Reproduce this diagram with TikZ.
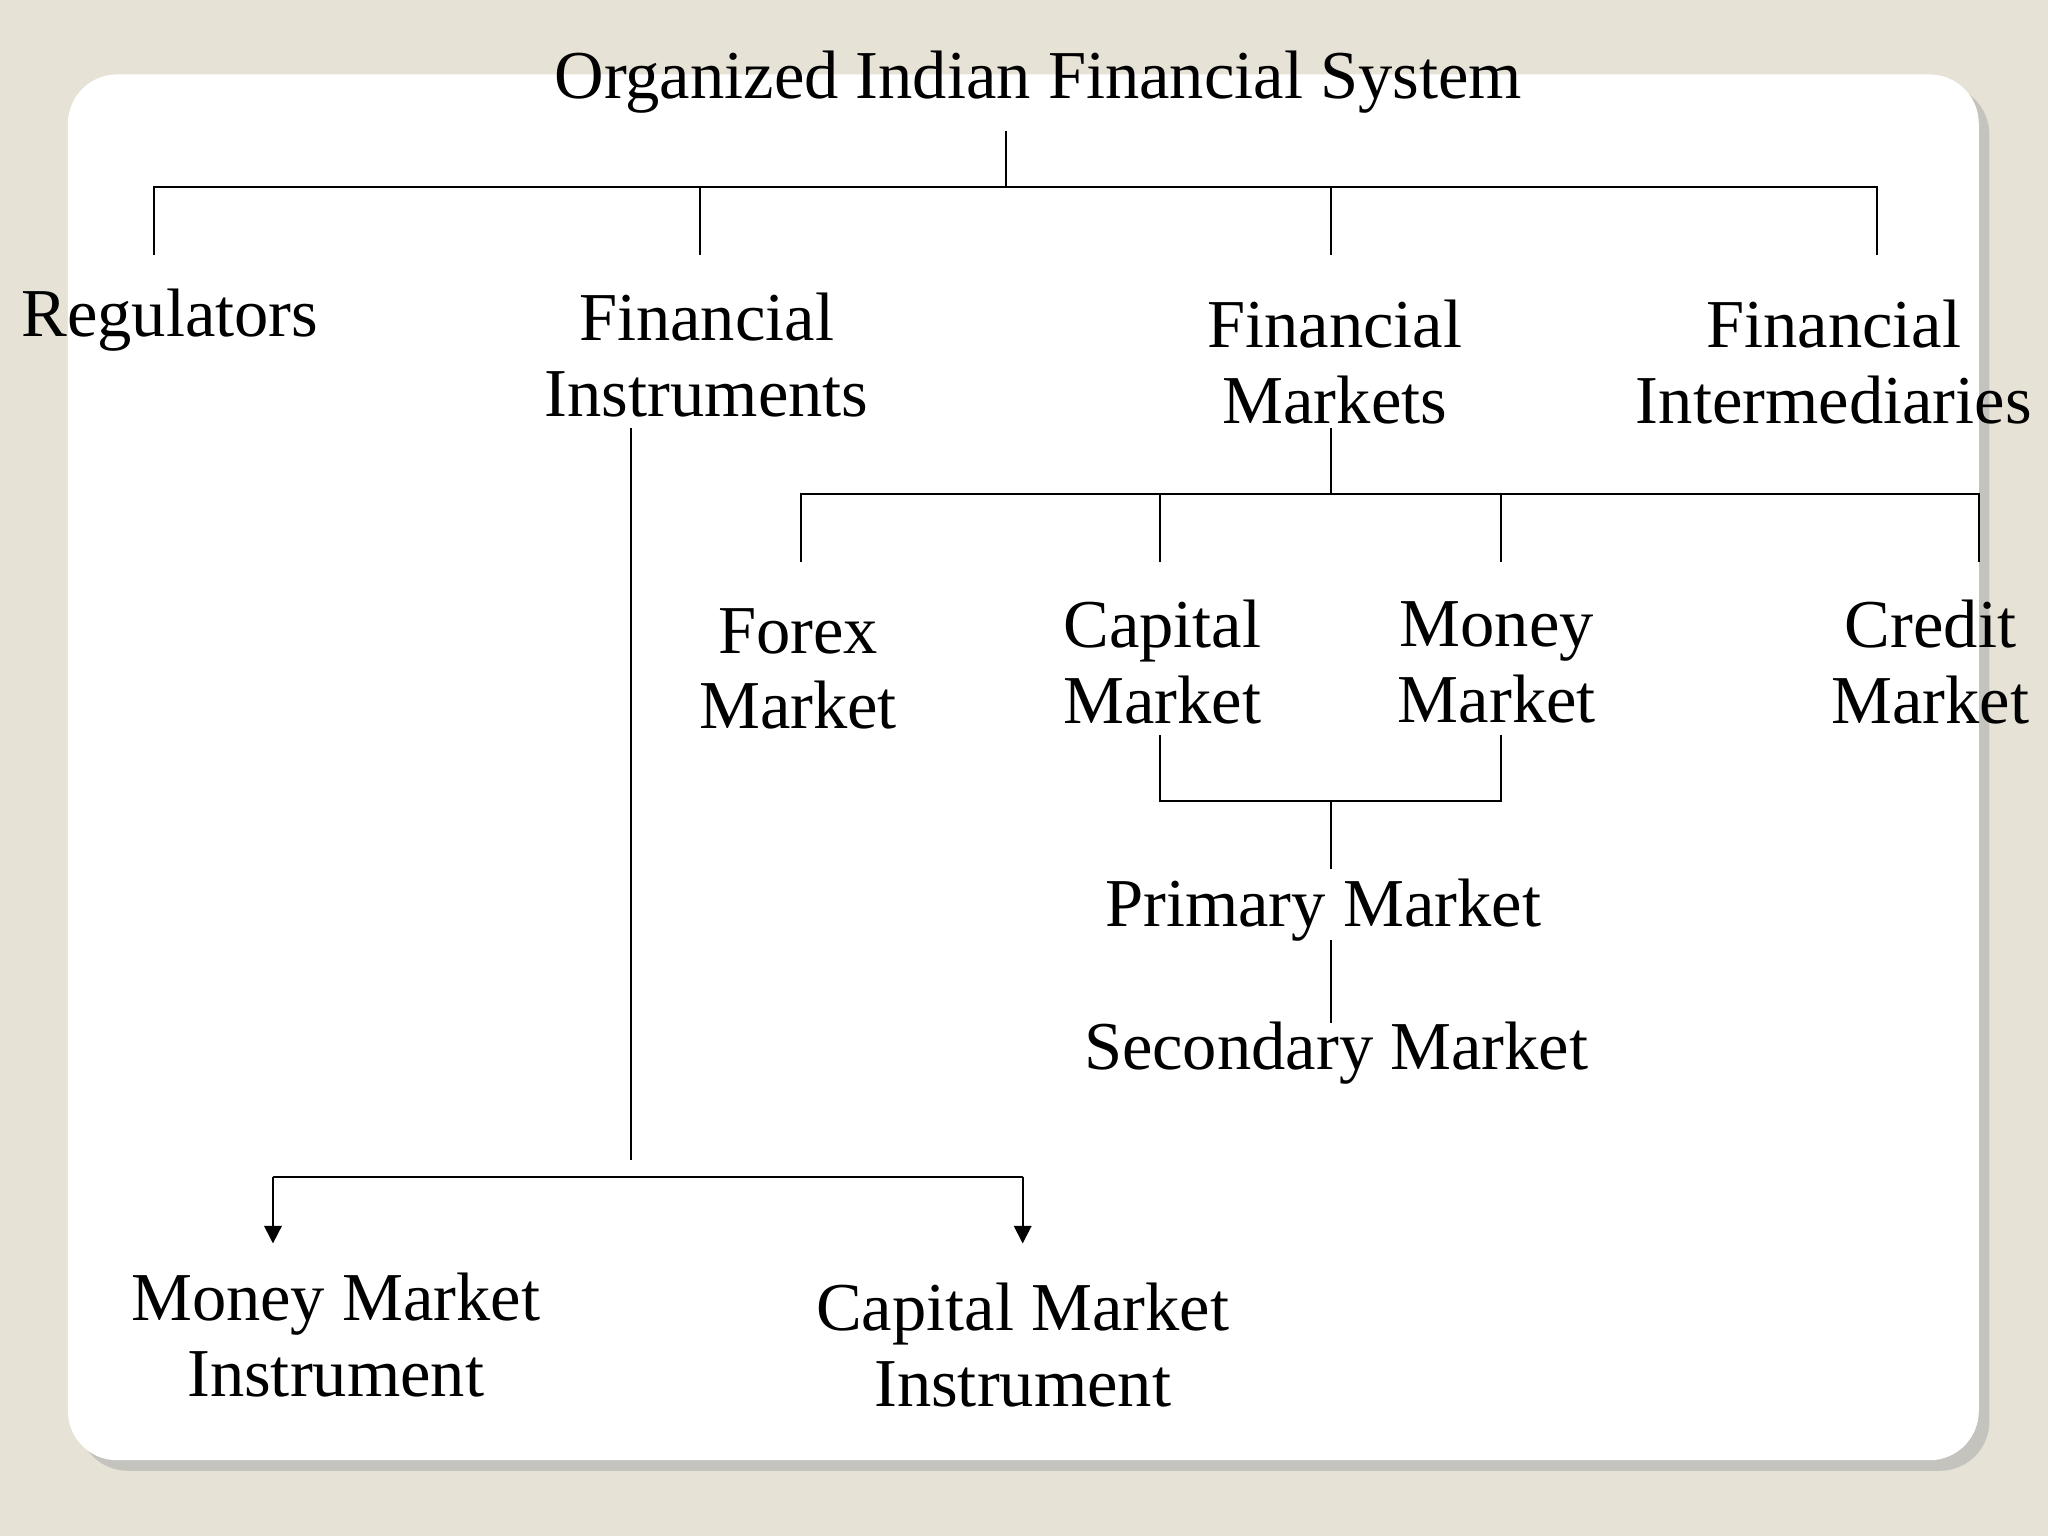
\documentclass[tikz,border=0pt]{standalone}
\usepackage{fontspec}
\setmainfont{Liberation Serif}
\usetikzlibrary{arrows.meta,shadows}
\definecolor{bg}{HTML}{E6E2D6}
\tikzset{lbl/.style={align=center,inner sep=0pt,font=\fontsize{19.5}{21.5}\selectfont},
  ln/.style={draw=black,line width=0.5pt},
  arr/.style={ln,-{Triangle[length=5pt,width=5pt]}}}
\begin{document}
\begin{tikzpicture}[x=0.013061cm,y=-0.013061cm]
\fill[bg] (0,0) rectangle (1568,1176);
\fill[white,rounded corners=14pt,drop shadow={shadow xshift=3pt,shadow yshift=-3pt,fill=black!35,opacity=0.5}] (52,57) rectangle (1515,1118);
\node[lbl] (t) at (795,63) {Organized Indian Financial System};
\node[lbl] (reg) at (130,245) {Regulators};
\node[lbl] (fi) at (541,272) {Financial\\Instruments};
\node[lbl] (fm) at (1022,277) {Financial\\Markets};
\node[lbl] (fint) at (1404,277) {Financial\\Intermediaries};
\node[lbl] (fx) at (611,512) {Forex\\Market};
\node[lbl] (cm) at (890,507) {Capital\\Market};
\node[lbl] (mm) at (1146,507) {Money\\Market};
\node[lbl] (cr) at (1478,507) {Credit\\Market};
\node[lbl] (pm) at (1013,697) {Primary Market};
\node[lbl] (sm) at (1023,806) {Secondary Market};
\node[lbl] (mmi) at (257,1022) {Money Market\\Instrument};
\node[lbl] (cmi) at (783,1030) {Capital Market\\Instrument};
% top tree
\coordinate (a1) at (770,100); \coordinate (a2) at (770,143);
\draw[ln] (a1) -- (a2);
\draw[ln] (118,195) -- (118,143) -- (1437,143) -- (1437,195);
\draw[ln] (536,143) -- (536,195);
\draw[ln] (1019,143) -- (1019,195);
% markets
\draw[ln] (1019,328) -- (1019,378);
\draw[ln] (613,430) -- (613,378) -- (1515,378) -- (1515,430);
\draw[ln] (888,378) -- (888,430);
\draw[ln] (1149,378) -- (1149,430);
\draw[ln] (888,563) -- (888,613) -- (1149,613) -- (1149,563);
\draw[ln] (1019,613) -- (1019,665);
\draw[ln] (1019,720) -- (1019,783);
% instruments
\draw[ln] (483,328) -- (483,888);
\draw[ln] (209,901) -- (783,901);
\draw[arr] (209,901) -- (209,952);
\draw[arr] (783,901) -- (783,952);
\end{tikzpicture}
\end{document}
